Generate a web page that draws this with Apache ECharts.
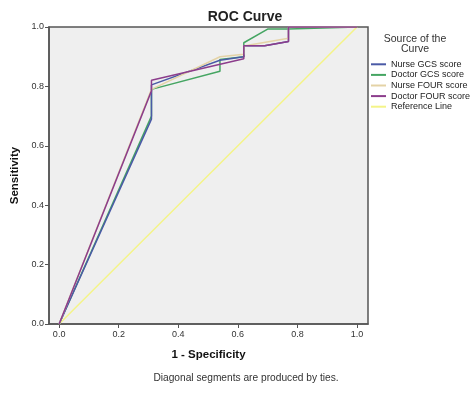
<!DOCTYPE html>
<html>
<head>
<meta charset="utf-8">
<script src="https://cdn.jsdelivr.net/npm/echarts@6/dist/echarts.min.js"></script>
<style>html,body{margin:0;padding:0;background:#fff}#c{width:474px;height:395px}</style>
</head>
<body>
<div id="c"></div>
<script>
var seriesNames = ['Nurse GCS score', 'Doctor GCS score', 'Nurse FOUR score', 'Doctor FOUR score', 'Reference Line'];
var tickValues = [0, 0.2, 0.4, 0.6, 0.8, 1.0];

var nurseGcsX = [0, 0.31, 0.31, 0.54, 0.62, 0.62, 0.69, 0.77, 0.77, 1.0];
var nurseGcsY = [0, 0.69, 0.805, 0.888, 0.90, 0.937, 0.937, 0.951, 1.0, 1.0];

var doctorGcsX = [0, 0.31, 0.31, 0.54, 0.54, 0.62, 0.62, 0.70, 0.77, 1.0];
var doctorGcsY = [0, 0.70, 0.79, 0.851, 0.891, 0.90, 0.947, 0.993, 0.993, 1.0];

var nurseFourX = [0, 0.31, 0.54, 0.62, 0.62, 0.77, 0.77, 1.0];
var nurseFourY = [0, 0.79, 0.90, 0.908, 0.936, 0.962, 1.0, 1.0];

var doctorFourX = [0, 0.31, 0.31, 0.62, 0.62, 0.69, 0.77, 0.77, 1.0];
var doctorFourY = [0, 0.785, 0.821, 0.893, 0.937, 0.937, 0.951, 1.0, 1.0];

var referenceX = [0, 1];
var referenceY = [0, 1];

function pairs(xs, ys) { return xs.map(function (x, i) { return [x, ys[i]]; }); }

var colors = {
  'Nurse GCS score': '#4a5aa6',
  'Doctor GCS score': '#45a562',
  'Nurse FOUR score': '#e4d3a6',
  'Doctor FOUR score': '#8c3d8c',
  'Reference Line': '#f4f488'
};

function lineSeries(name, xs, ys, z) {
  return {
    name: name, type: 'line', data: pairs(xs, ys), showSymbol: false, symbol: 'none',
    z: z, animation: false,
    lineStyle: { color: colors[name], width: 1.5 },
    itemStyle: { color: colors[name] }
  };
}

var font = 'Liberation Sans, Arial, sans-serif';
var chart = echarts.init(document.getElementById('c'), null, { renderer: 'canvas' });
chart.setOption({
  animation: false,
  backgroundColor: '#ffffff',
  title: [
    { text: 'ROC Curve', left: 245, textAlign: 'center', top: 10, padding: 0,
      textStyle: { fontFamily: font, fontSize: 14, fontWeight: 'bold', color: '#222' } },
    { text: 'Source of the\nCurve', left: 415, textAlign: 'center', top: 33.5, padding: 0,
      textStyle: { fontFamily: font, fontSize: 10.5, fontWeight: 'normal', color: '#333', lineHeight: 10.5 } },
    { text: 'Diagonal segments are produced by ties.', left: 246, textAlign: 'center', top: 373, padding: 0,
      textStyle: { fontFamily: font, fontSize: 10.2, fontWeight: 'normal', color: '#333' } }
  ],
  legend: {
    data: seriesNames, orient: 'vertical', left: 371, top: 59, padding: 0,
    icon: 'rect', itemWidth: 15, itemHeight: 2, itemGap: 0,
    textStyle: { fontFamily: font, fontSize: 9, color: '#222', lineHeight: 10.6 },
    selectedMode: false
  },
  grid: {
    left: 49, right: 106, top: 27, bottom: 71,
    show: true, backgroundColor: '#efefef', borderColor: '#555', borderWidth: 1.5
  },
  xAxis: {
    type: 'value', min: -0.034, max: 1.037,
    name: '1 - Specificity', nameLocation: 'middle', nameGap: 25,
    nameTextStyle: { fontFamily: font, fontSize: 11.5, fontWeight: 'bold', color: '#111' },
    axisLine: { show: true, onZero: false, lineStyle: { color: '#555', width: 1.5 } },
    axisTick: { show: true, length: 4, customValues: tickValues, lineStyle: { color: '#555' } },
    axisLabel: { customValues: tickValues, fontFamily: font, fontSize: 9, color: '#333', margin: 6,
      formatter: function (v) { return v.toFixed(1); } },
    splitLine: { show: false }
  },
  yAxis: {
    type: 'value', min: 0, max: 1.0, interval: 0.2,
    name: 'Sensitivity', nameLocation: 'middle', nameGap: 26, nameRotate: 90,
    nameTextStyle: { fontFamily: font, fontSize: 11.5, fontWeight: 'bold', color: '#111' },
    axisLine: { show: true, onZero: false, lineStyle: { color: '#555', width: 1.5 } },
    axisTick: { show: true, length: 4, lineStyle: { color: '#555' } },
    axisLabel: { fontFamily: font, fontSize: 9, color: '#333', margin: 5,
      formatter: function (v) { return v.toFixed(1); } },
    splitLine: { show: false }
  },
  series: [
    lineSeries('Reference Line', referenceX, referenceY, 1),
    lineSeries('Doctor GCS score', doctorGcsX, doctorGcsY, 2),
    lineSeries('Nurse GCS score', nurseGcsX, nurseGcsY, 3),
    lineSeries('Nurse FOUR score', nurseFourX, nurseFourY, 4),
    lineSeries('Doctor FOUR score', doctorFourX, doctorFourY, 5)
  ]
});
</script>
</body>
</html>
